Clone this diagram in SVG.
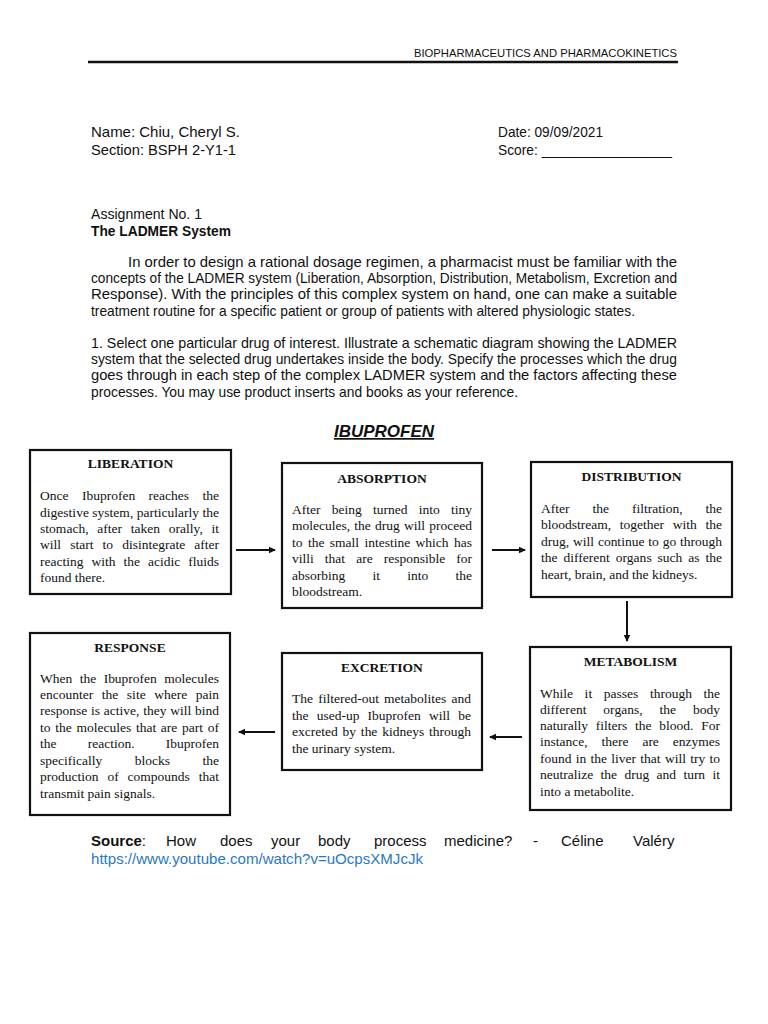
<svg xmlns="http://www.w3.org/2000/svg" width="768" height="1024" viewBox="0 0 768 1024">
<style>
.sans{font-family:"Liberation Sans",Arial,sans-serif;fill:#111}
.hd{font-size:11px}
.p{font-size:14.5px}
.serif{font-family:"Liberation Serif","Times New Roman",serif;fill:#111}
.t{font-size:13.5px;font-weight:bold}
.b{font-size:13.5px}
.box{fill:#fff;stroke:#111;stroke-width:2.2}
.con{stroke:#111;stroke-width:2;fill:none}
</style>
<defs>
<marker id="ah" markerWidth="8" markerHeight="8" refX="6" refY="4" orient="auto" markerUnits="userSpaceOnUse">
<path d="M0,0.8 L7,4 L0,7.2 Z" fill="#111"/>
</marker>
</defs>
<rect width="768" height="1024" fill="#fff"/>

<text class="sans hd" x="414" y="57" textLength="263" lengthAdjust="spacingAndGlyphs">BIOPHARMACEUTICS AND PHARMACOKINETICS</text>
<line x1="88" y1="62" x2="678" y2="62" stroke="#111" stroke-width="2.5"/>

<g class="sans p">
<text x="91" y="137" textLength="149" lengthAdjust="spacingAndGlyphs">Name: Chiu, Cheryl S.</text>
<text x="91" y="155" textLength="145" lengthAdjust="spacingAndGlyphs">Section: BSPH 2-Y1-1</text>
<text x="498" y="137" textLength="105" lengthAdjust="spacingAndGlyphs">Date: 09/09/2021</text>
<text x="498" y="155" textLength="174" lengthAdjust="spacingAndGlyphs">Score: _________________</text>
<text x="91" y="219" textLength="111" lengthAdjust="spacingAndGlyphs">Assignment No. 1</text>
<text x="91" y="236" font-weight="bold" textLength="140" lengthAdjust="spacingAndGlyphs">The LADMER System</text>

<text x="128" y="267" textLength="549" lengthAdjust="spacingAndGlyphs">In order to design a rational dosage regimen, a pharmacist must be familiar with the</text>
<text x="91" y="283" textLength="586" lengthAdjust="spacingAndGlyphs">concepts of the LADMER system (Liberation, Absorption, Distribution, Metabolism, Excretion and</text>
<text x="91" y="299" textLength="586" lengthAdjust="spacingAndGlyphs">Response). With the principles of this complex system on hand, one can make a suitable</text>
<text x="91" y="316" textLength="544" lengthAdjust="spacingAndGlyphs">treatment routine for a specific patient or group of patients with altered physiologic states.</text>

<text x="91" y="348" textLength="586" lengthAdjust="spacingAndGlyphs">1. Select one particular drug of interest. Illustrate a schematic diagram showing the LADMER</text>
<text x="91" y="364" textLength="586" lengthAdjust="spacingAndGlyphs">system that the selected drug undertakes inside the body. Specify the processes which the drug</text>
<text x="91" y="380" textLength="586" lengthAdjust="spacingAndGlyphs">goes through in each step of the complex LADMER system and the factors affecting these</text>
<text x="91" y="397" textLength="427" lengthAdjust="spacingAndGlyphs">processes. You may use product inserts and books as your reference.</text>
</g>

<text class="sans" x="384" y="437" text-anchor="middle" font-size="17" font-weight="bold" font-style="italic" text-decoration="underline">IBUPROFEN</text>

<g id="liberation">
<rect class="box" x="30" y="450" width="201" height="144"/>
<text class="serif t" x="130.5" y="468" text-anchor="middle">LIBERATION</text>
<g class="serif b">
<text x="40" y="500" word-spacing="10.07" textLength="179" lengthAdjust="spacing">Once Ibuprofen reaches the</text>
<text x="40" y="517" textLength="179" lengthAdjust="spacing">digestive system, particularly the</text>
<text x="40" y="533" word-spacing="5.2" textLength="179" lengthAdjust="spacing">stomach, after taken orally, it</text>
<text x="40" y="549" word-spacing="5.75" textLength="179" lengthAdjust="spacing">will start to disintegrate after</text>
<text x="40" y="566" word-spacing="4.6" textLength="179" lengthAdjust="spacing">reacting with the acidic fluids</text>
<text x="40" y="582">found there.</text>
</g>
</g>

<g id="absorption">
<rect class="box" x="282" y="463" width="200" height="145"/>
<text class="serif t" x="382" y="483" text-anchor="middle">ABSORPTION</text>
<g class="serif b">
<text x="292" y="514" word-spacing="7.9" textLength="180" lengthAdjust="spacing">After being turned into tiny</text>
<text x="292" y="530" word-spacing="0.85" textLength="180" lengthAdjust="spacing">molecules, the drug will proceed</text>
<text x="292" y="547" word-spacing="2" textLength="180" lengthAdjust="spacing">to the small intestine which has</text>
<text x="292" y="563" word-spacing="7.7" textLength="180" lengthAdjust="spacing">villi that are responsible for</text>
<text x="292" y="580" word-spacing="23.9" textLength="180" lengthAdjust="spacing">absorbing it into the</text>
<text x="292" y="596">bloodstream.</text>
</g>
</g>

<g id="distribution">
<rect class="box" x="531" y="462" width="201" height="135"/>
<text class="serif t" x="631.5" y="481" text-anchor="middle">DISTRIBUTION</text>
<g class="serif b">
<text x="541" y="513" word-spacing="19.6" textLength="181" lengthAdjust="spacing">After the filtration, the</text>
<text x="541" y="529" word-spacing="5.3" textLength="181" lengthAdjust="spacing">bloodstream, together with the</text>
<text x="541" y="546" word-spacing="0.5" textLength="181" lengthAdjust="spacing">drug, will continue to go through</text>
<text x="541" y="562" word-spacing="2.5" textLength="181" lengthAdjust="spacing">the different organs such as the</text>
<text x="541" y="579">heart, brain, and the kidneys.</text>
</g>
</g>

<g id="metabolism">
<rect class="box" x="530" y="647" width="201" height="163"/>
<text class="serif t" x="630.5" y="666" text-anchor="middle">METABOLISM</text>
<g class="serif b">
<text x="540" y="698" word-spacing="8.25" textLength="180" lengthAdjust="spacing">While it passes through the</text>
<text x="540" y="714" word-spacing="13.5" textLength="180" lengthAdjust="spacing">different organs, the body</text>
<text x="540" y="730" word-spacing="4.4" textLength="180" lengthAdjust="spacing">naturally filters the blood. For</text>
<text x="540" y="746" word-spacing="10.5" textLength="180" lengthAdjust="spacing">instance, there are enzymes</text>
<text x="540" y="763" word-spacing="0.9" textLength="180" lengthAdjust="spacing">found in the liver that will try to</text>
<text x="540" y="779" word-spacing="4" textLength="180" lengthAdjust="spacing">neutralize the drug and turn it</text>
<text x="540" y="796">into a metabolite.</text>
</g>
</g>

<g id="excretion">
<rect class="box" x="282" y="653" width="200" height="117"/>
<text class="serif t" x="382" y="672" text-anchor="middle">EXCRETION</text>
<g class="serif b">
<text x="292" y="703" word-spacing="1.8" textLength="179" lengthAdjust="spacing">The filtered-out metabolites and</text>
<text x="292" y="720" word-spacing="4.8" textLength="179" lengthAdjust="spacing">the used-up Ibuprofen will be</text>
<text x="292" y="736" word-spacing="1.45" textLength="179" lengthAdjust="spacing">excreted by the kidneys through</text>
<text x="292" y="753">the urinary system.</text>
</g>
</g>

<g id="response">
<rect class="box" x="30" y="633" width="200" height="182"/>
<text class="serif t" x="130" y="652" text-anchor="middle">RESPONSE</text>
<g class="serif b">
<text x="40" y="683" word-spacing="4.1" textLength="179" lengthAdjust="spacing">When the Ibuprofen molecules</text>
<text x="40" y="699" word-spacing="5.2" textLength="179" lengthAdjust="spacing">encounter the site where pain</text>
<text x="40" y="715" word-spacing="0.4" textLength="179" lengthAdjust="spacing">response is active, they will bind</text>
<text x="40" y="732" word-spacing="1.33" textLength="179" lengthAdjust="spacing">to the molecules that are part of</text>
<text x="40" y="748" word-spacing="27.8" textLength="179" lengthAdjust="spacing">the reaction. Ibuprofen</text>
<text x="40" y="765" word-spacing="29.1" textLength="179" lengthAdjust="spacing">specifically blocks the</text>
<text x="40" y="781" word-spacing="5.5" textLength="179" lengthAdjust="spacing">production of compounds that</text>
<text x="40" y="798">transmit pain signals.</text>
</g>
</g>

<g id="connectors">
<line class="con" x1="236" y1="550" x2="275" y2="550" marker-end="url(#ah)"/>
<line class="con" x1="492" y1="550" x2="525" y2="550" marker-end="url(#ah)"/>
<line class="con" x1="627" y1="601" x2="627" y2="641" marker-end="url(#ah)"/>
<line class="con" x1="522" y1="737" x2="490" y2="737" marker-end="url(#ah)"/>
<line class="con" x1="275" y1="732" x2="239" y2="732" marker-end="url(#ah)"/>
</g>

<g class="sans" font-size="15">
<text x="91" y="846" font-weight="bold">Source<tspan font-weight="normal">:</tspan></text>
<text x="166" y="846">How</text>
<text x="220" y="846">does</text>
<text x="271" y="846">your</text>
<text x="318" y="846">body</text>
<text x="374" y="846">process</text>
<text x="444" y="846">medicine?</text>
<text x="533" y="846">-</text>
<text x="561" y="846">Céline</text>
<text x="633" y="846">Valéry</text>
<text x="91" y="864" style="fill:#2a78c4" textLength="332" lengthAdjust="spacingAndGlyphs">https://www.youtube.com/watch?v=uOcpsXMJcJk</text>
</g>
</svg>
